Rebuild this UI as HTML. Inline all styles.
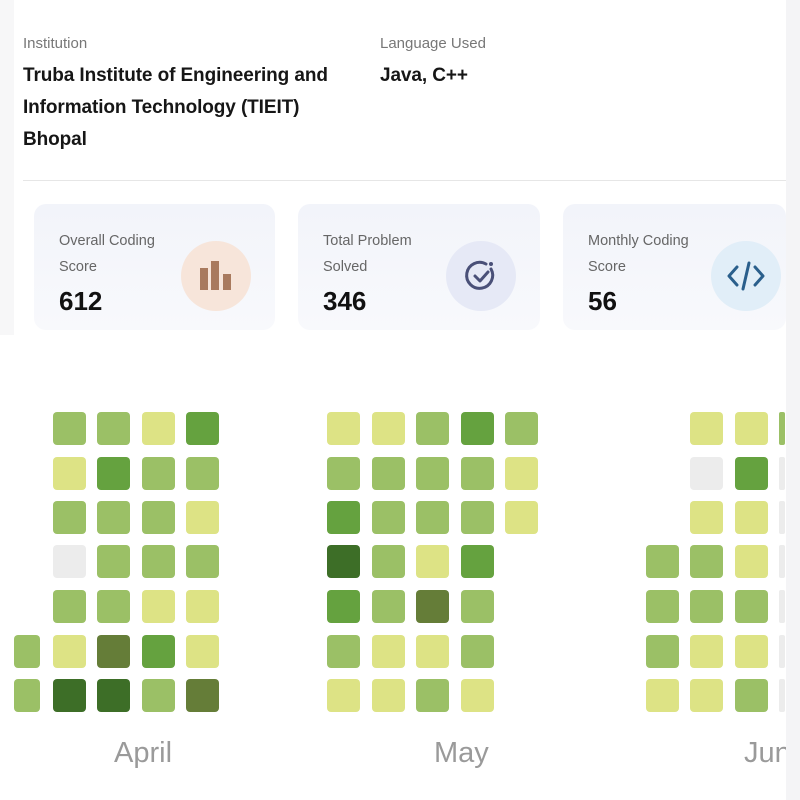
<!DOCTYPE html>
<html><head><meta charset="utf-8"><style>
body{margin:0;width:800px;height:800px;background:#fff;position:relative;overflow:hidden;font-family:"Liberation Sans",sans-serif}
.a{position:absolute}
.lbl{color:#777;font-size:15px}
.b{font-weight:bold;font-size:19px;color:#161616;letter-spacing:-0.1px}
.card{position:absolute;top:204px;height:126px;background:linear-gradient(#f2f4fa,#f8f9fc);border-radius:12px}
.ct{position:absolute;left:25px;top:24px;font-size:14.5px;color:#666;line-height:26px}
.num{position:absolute;left:25px;top:82px;font-size:26px;font-weight:bold;color:#111}
.ic{position:absolute;width:70px;height:70px;border-radius:50%}
.sq{position:absolute;width:33px;height:33px;border-radius:4px}
.m{position:absolute;top:737px;font-size:29px;color:#9a9a9a}
</style></head><body>
<div class="a" style="left:0;top:0;width:14px;height:335px;background:#f7f7f8"></div>
<div class="a" style="left:786px;top:0;width:14px;height:800px;background:#f4f4f6"></div>
<div class="a lbl" style="left:23px;top:35px">Institution</div>
<div class="a lbl" style="left:380px;top:35px">Language Used</div>
<div class="a b" style="left:23px;top:60px;line-height:32px">Truba Institute of Engineering and<br>Information Technology (TIEIT)<br>Bhopal</div>
<div class="a b" style="left:380px;top:60px;line-height:32px">Java, C++</div>
<div class="a" style="left:23px;top:180px;width:763px;height:1px;background:#e6e6e6"></div>

<div class="card" style="left:34px;width:241px"><div class="ct">Overall Coding<br>Score</div><div class="num">612</div></div>
<div class="card" style="left:298px;width:242px"><div class="ct">Total Problem<br>Solved</div><div class="num">346</div></div>
<div class="card" style="left:563px;width:223px"><div class="ct">Monthly Coding<br>Score</div><div class="num">56</div></div>
<div class="ic" style="left:181px;top:241px;background:#f7e5da"></div>
<div class="a" style="left:200px;top:268px;width:8px;height:22px;background:#a97a5e"></div>
<div class="a" style="left:211px;top:261px;width:8px;height:29px;background:#a97a5e"></div>
<div class="a" style="left:223px;top:274px;width:8px;height:16px;background:#a97a5e"></div>
<div class="ic" style="left:446px;top:241px;background:#e6e9f6"></div>
<svg class="a" style="left:462px;top:257px" width="38" height="38" viewBox="0 0 38 38"><path d="M29 12 A13 13 0 1 1 24 7" fill="none" stroke="#4a5078" stroke-width="3" stroke-linecap="round"/><circle cx="29" cy="7" r="2" fill="#4a5078"/><path d="M13 19 L18 24 L26 15" fill="none" stroke="#4a5078" stroke-width="3" stroke-linecap="round" stroke-linejoin="round"/></svg>
<div class="ic" style="left:711px;top:241px;background:#e1eef8"></div>
<svg class="a" style="left:726px;top:258px" width="40" height="36" viewBox="0 0 40 36"><path d="M11 9 L3 18 L11 27 M29 9 L37 18 L29 27 M23 5 L17 31" fill="none" stroke="#2a5f8c" stroke-width="3" stroke-linecap="round" stroke-linejoin="round"/></svg>

<div id="g"></div>
<div class="m" style="left:114px">April</div>
<div class="m" style="left:434px">May</div>
<div class="m" style="left:744px;width:42px;overflow:hidden">Jun</div>
<script>
var C={1:'#dde385',2:'#9bc066',3:'#65a23f',4:'#3d6e27',o:'#657d38',e:'#ececec'};
var rows=[412,457,501,545,590,635,679];
function put(cols,grid){var h='';grid.forEach(function(r,i){r.split(',').forEach(function(v,j){if(v!='-'){var w=cols[j][1];h+='<div class="sq" style="left:'+cols[j][0]+'px;top:'+rows[i]+'px;width:'+w+'px;background:'+C[v]+(w<20?';border-radius:2px':'')+'"></div>';}});});document.getElementById('g').innerHTML+=h;}
put([[14,26],[53,33],[97,33],[142,33],[186,33]],['-,2,2,1,3','-,1,3,2,2','-,2,2,2,1','-,e,2,2,2','-,2,2,1,1','2,1,o,3,1','2,4,4,2,o']);
put([[327,33],[372,33],[416,33],[461,33],[505,33]],['1,1,2,3,2','2,2,2,2,1','3,2,2,2,1','4,2,1,3,-','3,2,o,2,-','2,1,1,2,-','1,1,2,1,-']);
put([[646,33],[690,33],[735,33],[779,6]],['-,1,1,2','-,e,3,e','-,1,1,e','2,2,1,e','2,2,2,e','2,1,1,e','1,1,2,e']);
</script>
</body></html>
